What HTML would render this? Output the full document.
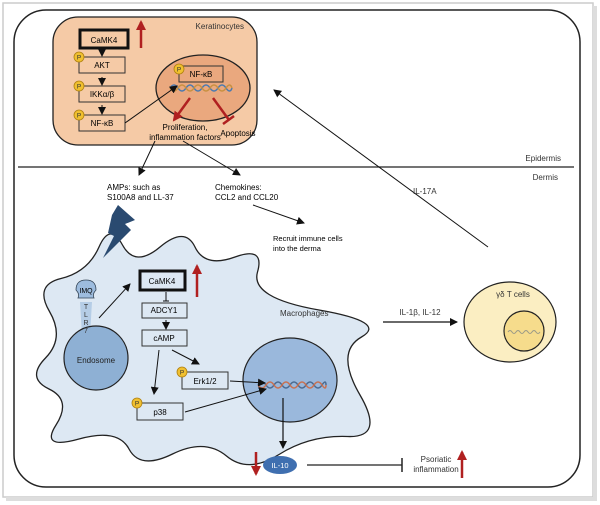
<!DOCTYPE html>
<html><head><meta charset="utf-8"><style>
html,body{margin:0;padding:0;background:#fff;width:600px;height:505px;overflow:hidden}
svg{display:block;font-family:"Liberation Sans",Arial,sans-serif}
</style></head><body>
<svg width="600" height="505" viewBox="0 0 600 505" xmlns="http://www.w3.org/2000/svg">
<defs>
<marker id="a" markerWidth="8" markerHeight="8" refX="7" refY="4" orient="auto" markerUnits="userSpaceOnUse"><path d="M0,0 L8,4 L0,8 Z" fill="#111"/></marker>
<marker id="r" markerWidth="10" markerHeight="10" refX="8" refY="5" orient="auto" markerUnits="userSpaceOnUse"><path d="M0,0 L10,5 L0,10 Z" fill="#b02020"/></marker>
</defs>
<rect x="3" y="3" width="590" height="494" fill="#fff" stroke="#ccc" stroke-width="1.5"/>
<rect x="593" y="6" width="4" height="494" fill="#ddd"/>
<rect x="6" y="497" width="591" height="4" fill="#ddd"/>
<rect x="14" y="10" width="566" height="477" rx="32" fill="#fff" stroke="#222" stroke-width="1.5"/>

<!-- Keratinocyte -->
<rect x="53" y="17" width="204" height="128" rx="25" fill="#f5caa6" stroke="#222" stroke-width="1.3"/>
<text x="244" y="29" font-size="8" text-anchor="end" fill="#333">Keratinocytes</text>
<rect x="80" y="30" width="48" height="18" fill="none" stroke="#111" stroke-width="3"/>
<text x="104" y="43" font-size="8" text-anchor="middle">CaMK4</text>
<g fill="none" stroke="#333" stroke-width="1">
<rect x="79" y="57" width="46" height="16"/><rect x="79" y="86" width="46" height="16"/><rect x="79" y="115" width="46" height="16"/>
</g>
<text x="102" y="68" font-size="8" text-anchor="middle">AKT</text>
<text x="102" y="97" font-size="8" text-anchor="middle">IKKα/β</text>
<text x="102" y="126" font-size="8" text-anchor="middle">NF-κB</text>
<g stroke="#111" stroke-width="1" marker-end="url(#a)">
<line x1="102" y1="49" x2="102" y2="56"/><line x1="102" y1="77" x2="102" y2="85"/><line x1="102" y1="105" x2="102" y2="114"/>
</g>
<line x1="141" y1="48" x2="141" y2="22" stroke="#b02020" stroke-width="2.5" marker-end="url(#r)"/>
<ellipse cx="203" cy="88" rx="47" ry="33" fill="#eaa87e" stroke="#222" stroke-width="1.3"/>
<rect x="179" y="66" width="44" height="16" fill="none" stroke="#333"/>
<text x="201" y="77" font-size="8" text-anchor="middle">NF-κB</text>
<path d="M170,88 q4,-6 8,0 t8,0 t8,0 t8,0 t8,0 t8,0 t8,0 t6,0" fill="none" stroke="#4a7ab0" stroke-width="1.5"/>
<path d="M170,88 q4,6 8,0 t8,0 t8,0 t8,0 t8,0 t8,0 t8,0 t6,0" fill="none" stroke="#c89040" stroke-width="1.5"/>
<line x1="125" y1="123" x2="177" y2="86" stroke="#111" marker-end="url(#a)"/>
<line x1="190" y1="98" x2="174" y2="120" stroke="#b02020" stroke-width="2.5" marker-end="url(#r)"/>
<line x1="213" y1="98" x2="229" y2="120" stroke="#b02020" stroke-width="2.5"/>
<line x1="223" y1="124" x2="234" y2="116" stroke="#b02020" stroke-width="2.5"/>
<text x="185" y="130" font-size="8" text-anchor="middle">Proliferation,</text>
<text x="185" y="140" font-size="8" text-anchor="middle">inflammation factors</text>
<text x="238" y="136" font-size="8" text-anchor="middle">Apoptosis</text>
<g fill="#f0c030" stroke="#b08010" stroke-width="0.8">
<circle cx="79" cy="57" r="5"/><circle cx="79" cy="86" r="5"/><circle cx="79" cy="115" r="5"/><circle cx="179" cy="69" r="5"/>
</g>
<g font-size="6.5" text-anchor="middle" fill="#333"><text x="79" y="59.5">P</text><text x="79" y="88.5">P</text><text x="79" y="117.5">P</text><text x="179" y="71.5">P</text></g>

<!-- layers -->
<line x1="18" y1="167" x2="574" y2="167" stroke="#222" stroke-width="1.2"/>
<text x="561" y="161" font-size="8" text-anchor="end" fill="#333">Epidermis</text>
<text x="558" y="180" font-size="8" text-anchor="end" fill="#333">Dermis</text>
<line x1="155" y1="141" x2="139" y2="175" stroke="#111" marker-end="url(#a)"/>
<line x1="183" y1="141" x2="240" y2="175" stroke="#111" marker-end="url(#a)"/>
<text x="107" y="190" font-size="8">AMPs: such as</text>
<text x="107" y="200" font-size="8">S100A8 and LL-37</text>
<text x="215" y="190" font-size="8">Chemokines:</text>
<text x="215" y="200" font-size="8">CCL2 and CCL20</text>
<line x1="253" y1="205" x2="304" y2="223" stroke="#111" marker-end="url(#a)"/>
<text x="273" y="241" font-size="7.5">Recruit immune cells</text>
<text x="273" y="251" font-size="7.5">into the derma</text>
<line x1="488" y1="247" x2="274" y2="90" stroke="#111" marker-end="url(#a)"/>
<text x="413" y="194" font-size="8" fill="#333">IL-17A</text>

<!-- Macrophage -->
<path d="M122.5,245 Q135,268 160,247 Q185,226 195,247 Q205,268 235,257 Q265,246 257.5,272 Q250,298 319,310 Q388,322 361.5,337 Q335,352 360,395 Q385,438 347.5,436.5 Q310,435 279,454.5 Q248,474 226.5,456 Q205,438 172.5,454 Q140,470 129,449 Q118,428 79,439 Q40,450 56,425 Q72,400 49,389 Q26,378 45.5,358 Q65,338 49.5,311.5 Q34,285 61,278.5 Q88,272 99,247 Q110,222 122.5,245 Z" fill="#dde8f3" stroke="#222" stroke-width="1.3"/>
<path d="M118,205 L135,220 L125,224 L131,230 L103,258 L114,236 L108,233 L112,215 Z" fill="#2a4a70"/>
<text x="280" y="316" font-size="8" fill="#333">Macrophages</text>
<path d="M80,302 L92,302 L90,335 L82,335 Z" fill="#b5cde6"/>
<circle cx="96" cy="358" r="32" fill="#8eb0d4" stroke="#222" stroke-width="1.2"/>
<text x="96" y="363" font-size="8" text-anchor="middle" fill="#222">Endosome</text>
<path d="M76,290 q0,-10 10,-10 q10,0 10,10 q-4,4 -2,8 h-16 q2,-4 -2,-8z" fill="#9dbcde" stroke="#345" stroke-width="0.8"/>
<text x="86" y="293" font-size="7" text-anchor="middle">IMQ</text>
<g font-size="7" text-anchor="middle" fill="#333"><text x="86" y="309">T</text><text x="86" y="317">L</text><text x="86" y="325">R</text><text x="86" y="333">7</text></g>
<line x1="99" y1="318" x2="130" y2="284" stroke="#111" marker-end="url(#a)"/>
<rect x="140" y="271" width="45" height="19" fill="none" stroke="#111" stroke-width="3"/>
<text x="162" y="284" font-size="8" text-anchor="middle">CaMK4</text>
<line x1="197" y1="297" x2="197" y2="266" stroke="#b02020" stroke-width="2.5" marker-end="url(#r)"/>
<g fill="none" stroke="#333"><rect x="142" y="303" width="45" height="15"/><rect x="142" y="330" width="45" height="16"/><rect x="182" y="372" width="46" height="17"/><rect x="137" y="403" width="46" height="17"/></g>
<text x="164" y="313" font-size="8" text-anchor="middle">ADCY1</text>
<text x="164" y="341" font-size="8" text-anchor="middle">cAMP</text>
<text x="205" y="384" font-size="8" text-anchor="middle">Erk1/2</text>
<text x="160" y="415" font-size="8" text-anchor="middle">p38</text>
<line x1="166" y1="292" x2="166" y2="301" stroke="#111"/><line x1="163" y1="301" x2="169" y2="301" stroke="#111"/>
<line x1="166" y1="320" x2="166" y2="329" stroke="#111" marker-end="url(#a)"/>
<line x1="172" y1="350" x2="199" y2="364" stroke="#111" marker-end="url(#a)"/>
<line x1="159" y1="350" x2="154" y2="394" stroke="#111" marker-end="url(#a)"/>
<ellipse cx="290" cy="380" rx="47" ry="42" fill="#9ab8dc" stroke="#222" stroke-width="1.2"/>
<path d="M258,385 q4,-6 8,0 t8,0 t8,0 t8,0 t8,0 t8,0 t8,0 t8,0 t4,0" fill="none" stroke="#4a6a90" stroke-width="1.5"/>
<path d="M258,385 q4,6 8,0 t8,0 t8,0 t8,0 t8,0 t8,0 t8,0 t8,0 t4,0" fill="none" stroke="#c87050" stroke-width="1.5"/>
<line x1="230" y1="381" x2="265" y2="383" stroke="#111" marker-end="url(#a)"/>
<line x1="185" y1="412" x2="266" y2="389" stroke="#111" marker-end="url(#a)"/>
<line x1="283" y1="398" x2="283" y2="448" stroke="#111" stroke-width="1.2" marker-end="url(#a)"/>
<g fill="#f0c030" stroke="#b08010" stroke-width="0.8"><circle cx="182" cy="372" r="5"/><circle cx="137" cy="403" r="5"/></g>
<g font-size="6.5" text-anchor="middle" fill="#333"><text x="182" y="374.5">P</text><text x="137" y="405.5">P</text></g>
<ellipse cx="280" cy="465" rx="17" ry="9" fill="#3f6fb0"/>
<text x="280" y="468" font-size="7.5" text-anchor="middle" fill="#fff">IL-10</text>
<line x1="256" y1="452" x2="256" y2="474" stroke="#b02020" stroke-width="2.5" marker-end="url(#r)"/>
<line x1="307" y1="465" x2="402" y2="465" stroke="#222" stroke-width="1.2"/>
<line x1="402" y1="458" x2="402" y2="472" stroke="#222" stroke-width="1.5"/>
<text x="436" y="462" font-size="8" text-anchor="middle" fill="#333">Psoriatic</text>
<text x="436" y="472" font-size="8" text-anchor="middle" fill="#333">inflammation</text>
<line x1="462" y1="478" x2="462" y2="452" stroke="#b02020" stroke-width="2.5" marker-end="url(#r)"/>

<!-- gd T -->
<line x1="383" y1="322" x2="457" y2="322" stroke="#111" stroke-width="1.2" marker-end="url(#a)"/>
<text x="420" y="315" font-size="8" text-anchor="middle" fill="#333">IL-1β, IL-12</text>
<ellipse cx="510" cy="322" rx="46" ry="40" fill="#fbeec2" stroke="#222" stroke-width="1.2"/>
<circle cx="524" cy="331" r="20" fill="#f6dc8c" stroke="#222" stroke-width="1.2"/>
<text x="513" y="297" font-size="8" text-anchor="middle" fill="#333">γδ T cells</text>
<path d="M508,332 q2,-3 4,0 t4,0 t4,0 t4,0 t4,0 t4,0 t4,0 t4,0" fill="none" stroke="#998" stroke-width="1"/>
</svg>
</body></html>
